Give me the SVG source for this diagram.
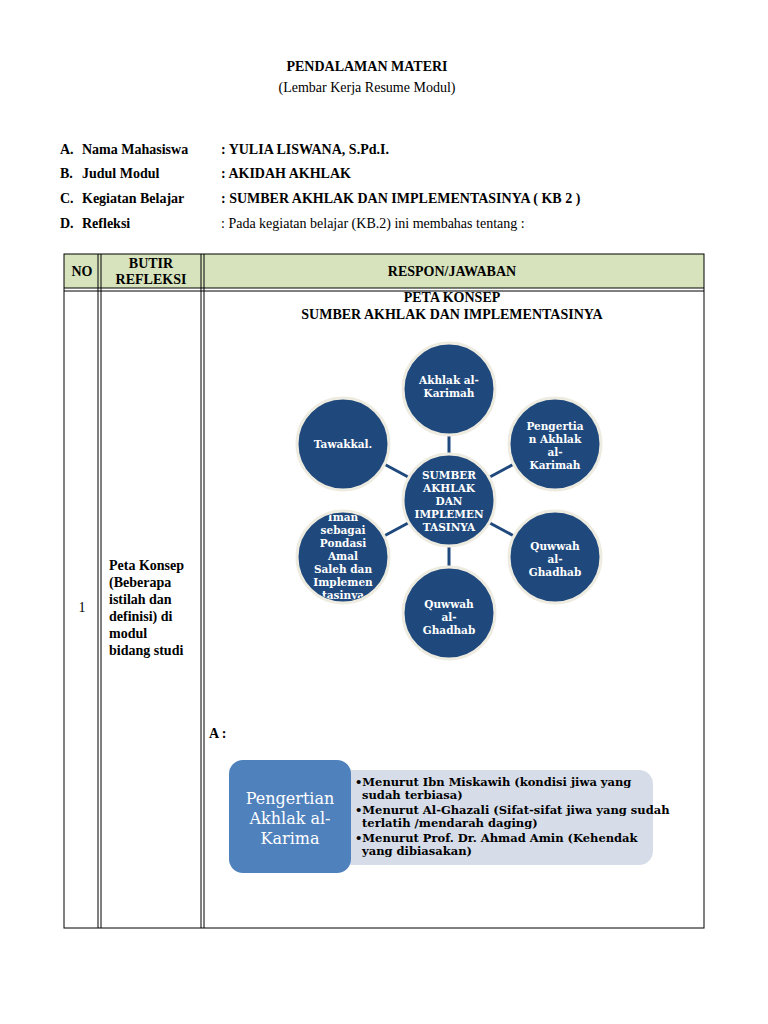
<svg xmlns="http://www.w3.org/2000/svg" width="768" height="1024" viewBox="0 0 768 1024">
<style>
.t{font-family:"Liberation Serif",serif;font-size:14px;fill:#000}
.b{font-weight:bold}
.c{fill:#1f497d;stroke:#eeece1;stroke-width:3}
.ct{font-family:"DejaVu Serif",serif;font-weight:bold;font-size:10.5px;fill:#fff;text-anchor:middle}
.ln{stroke:#1f497d;stroke-width:3}
.g{stroke:#000;stroke-width:1;fill:none}
.bt{font-family:"DejaVu Serif",serif;font-weight:bold;font-size:11.5px;fill:#000}
</style>
<rect width="768" height="1024" fill="#fff"/>
<text class="t b" x="367" y="71" text-anchor="middle">PENDALAMAN MATERI</text>
<text class="t" x="367" y="92" text-anchor="middle">(Lembar Kerja Resume Modul)</text>
<g class="t b">
<text x="60" y="154">A.</text><text x="82" y="154">Nama Mahasiswa</text><text x="221" y="154">: YULIA LISWANA, S.Pd.I.</text>
<text x="60" y="178">B.</text><text x="82" y="178">Judul Modul</text><text x="221" y="178">: AKIDAH AKHLAK</text>
<text x="60" y="203">C.</text><text x="82" y="203">Kegiatan Belajar</text><text x="221" y="203">: SUMBER AKHLAK DAN IMPLEMENTASINYA ( KB 2 )</text>
<text x="60" y="228">D.</text><text x="82" y="228">Refleksi</text>
</g>
<text class="t" x="221" y="228">: Pada kegiatan belajar (KB.2) ini membahas tentang :</text>
<g id="table">
<rect x="64" y="254" width="640" height="34" fill="#d6e3bc"/>
<rect x="64" y="254" width="640" height="674" class="g"/>
<line x1="64" y1="288" x2="704" y2="288" class="g"/>
<line x1="64" y1="291" x2="704" y2="291" class="g"/>
<line x1="101" y1="254" x2="101" y2="928" class="g"/>
<line x1="98" y1="254" x2="98" y2="928" class="g"/>
<line x1="201" y1="254" x2="201" y2="928" class="g"/>
<line x1="204" y1="254" x2="204" y2="928" class="g"/>
<text class="t b" x="82" y="276" text-anchor="middle">NO</text>
<text class="t b" x="151" y="268" text-anchor="middle">BUTIR</text>
<text class="t b" x="151" y="284" text-anchor="middle">REFLEKSI</text>
<text class="t b" x="452" y="276" text-anchor="middle">RESPON/JAWABAN</text>
<text class="t" x="82" y="612" text-anchor="middle">1</text>
<g class="t b"><text x="109" y="570">Peta Konsep</text><text x="109" y="587">(Beberapa</text><text x="109" y="604">istilah dan</text><text x="109" y="621">definisi) di</text><text x="109" y="638">modul</text><text x="109" y="655">bidang studi</text></g>
<text class="t b" x="452" y="302" text-anchor="middle">PETA KONSEP</text>
<text class="t b" x="452" y="319" text-anchor="middle">SUMBER AKHLAK DAN IMPLEMENTASINYA</text>
<text class="t b" x="209" y="738">A :</text>
</g>
<g id="connectors">
<line class="ln" x1="449" y1="432" x2="449" y2="456"/>
<line class="ln" x1="449" y1="544" x2="449" y2="568"/>
<line class="ln" x1="488" y1="478" x2="514" y2="464"/>
<line class="ln" x1="488" y1="522" x2="514" y2="536"/>
<line class="ln" x1="410" y1="478" x2="384" y2="464"/>
<line class="ln" x1="410" y1="522" x2="384" y2="536"/>
</g>
<g id="center"><circle class="c" cx="449" cy="500" r="46"/>
<text class="ct" x="449" y="479">SUMBER</text><text class="ct" x="449" y="492">AKHLAK</text><text class="ct" x="449" y="505">DAN</text><text class="ct" x="449" y="518">IMPLEMEN</text><text class="ct" x="449" y="531">TASINYA</text></g>
<g id="n1"><circle class="c" cx="449" cy="389" r="46"/><text class="ct" x="449" y="384">Akhlak al-</text><text class="ct" x="449" y="397">Karimah</text></g>
<g id="n2"><circle class="c" cx="555" cy="444" r="46"/><text class="ct" x="555" y="430">Pengertia</text><text class="ct" x="555" y="443">n Akhlak</text><text class="ct" x="555" y="456">al-</text><text class="ct" x="555" y="469">Karimah</text></g>
<g id="n3"><circle class="c" cx="555" cy="557" r="46"/><text class="ct" x="555" y="550">Quwwah</text><text class="ct" x="555" y="563">al-</text><text class="ct" x="555" y="576">Ghadhab</text></g>
<g id="n4"><circle class="c" cx="449" cy="613" r="46"/><text class="ct" x="449" y="608">Quwwah</text><text class="ct" x="449" y="621">al-</text><text class="ct" x="449" y="634">Ghadhab</text></g>
<g id="n5"><circle class="c" cx="343" cy="557" r="46"/>
<clipPath id="cl"><circle cx="343" cy="557" r="44"/></clipPath>
<g clip-path="url(#cl)"><text class="ct" x="343" y="521">Iman</text><text class="ct" x="343" y="534">sebagai</text><text class="ct" x="343" y="547">Pondasi</text><text class="ct" x="343" y="560">Amal</text><text class="ct" x="343" y="573">Saleh dan</text><text class="ct" x="343" y="586">Implemen</text><text class="ct" x="343" y="599">tasinya</text></g></g>
<g id="n6"><circle class="c" cx="343" cy="444" r="46"/><text class="ct" x="343" y="448">Tawakkal.</text></g>
<g id="def">
<rect x="300" y="770" width="353" height="95" rx="14" fill="#d6dde9"/>
<rect x="229" y="760" width="122" height="113" rx="14" fill="#4f81bd"/>
<text x="290" y="804" font-family="DejaVu Serif,serif" font-size="16" fill="#fff" text-anchor="middle">Pengertian</text>
<text x="290" y="824" font-family="DejaVu Serif,serif" font-size="16" fill="#fff" text-anchor="middle">Akhlak al-</text>
<text x="290" y="844" font-family="DejaVu Serif,serif" font-size="16" fill="#fff" text-anchor="middle">Karima</text>
<text class="bt" x="355" y="786">•Menurut Ibn Miskawih (kondisi jiwa yang</text>
<text class="bt" x="362" y="799">sudah terbiasa)</text>
<text class="bt" x="355" y="814">•Menurut Al-Ghazali (Sifat-sifat jiwa yang sudah</text>
<text class="bt" x="362" y="827">terlatih /mendarah daging)</text>
<text class="bt" x="355" y="842">•Menurut Prof. Dr. Ahmad Amin (Kehendak</text>
<text class="bt" x="362" y="855">yang dibiasakan)</text>
</g>
</svg>
